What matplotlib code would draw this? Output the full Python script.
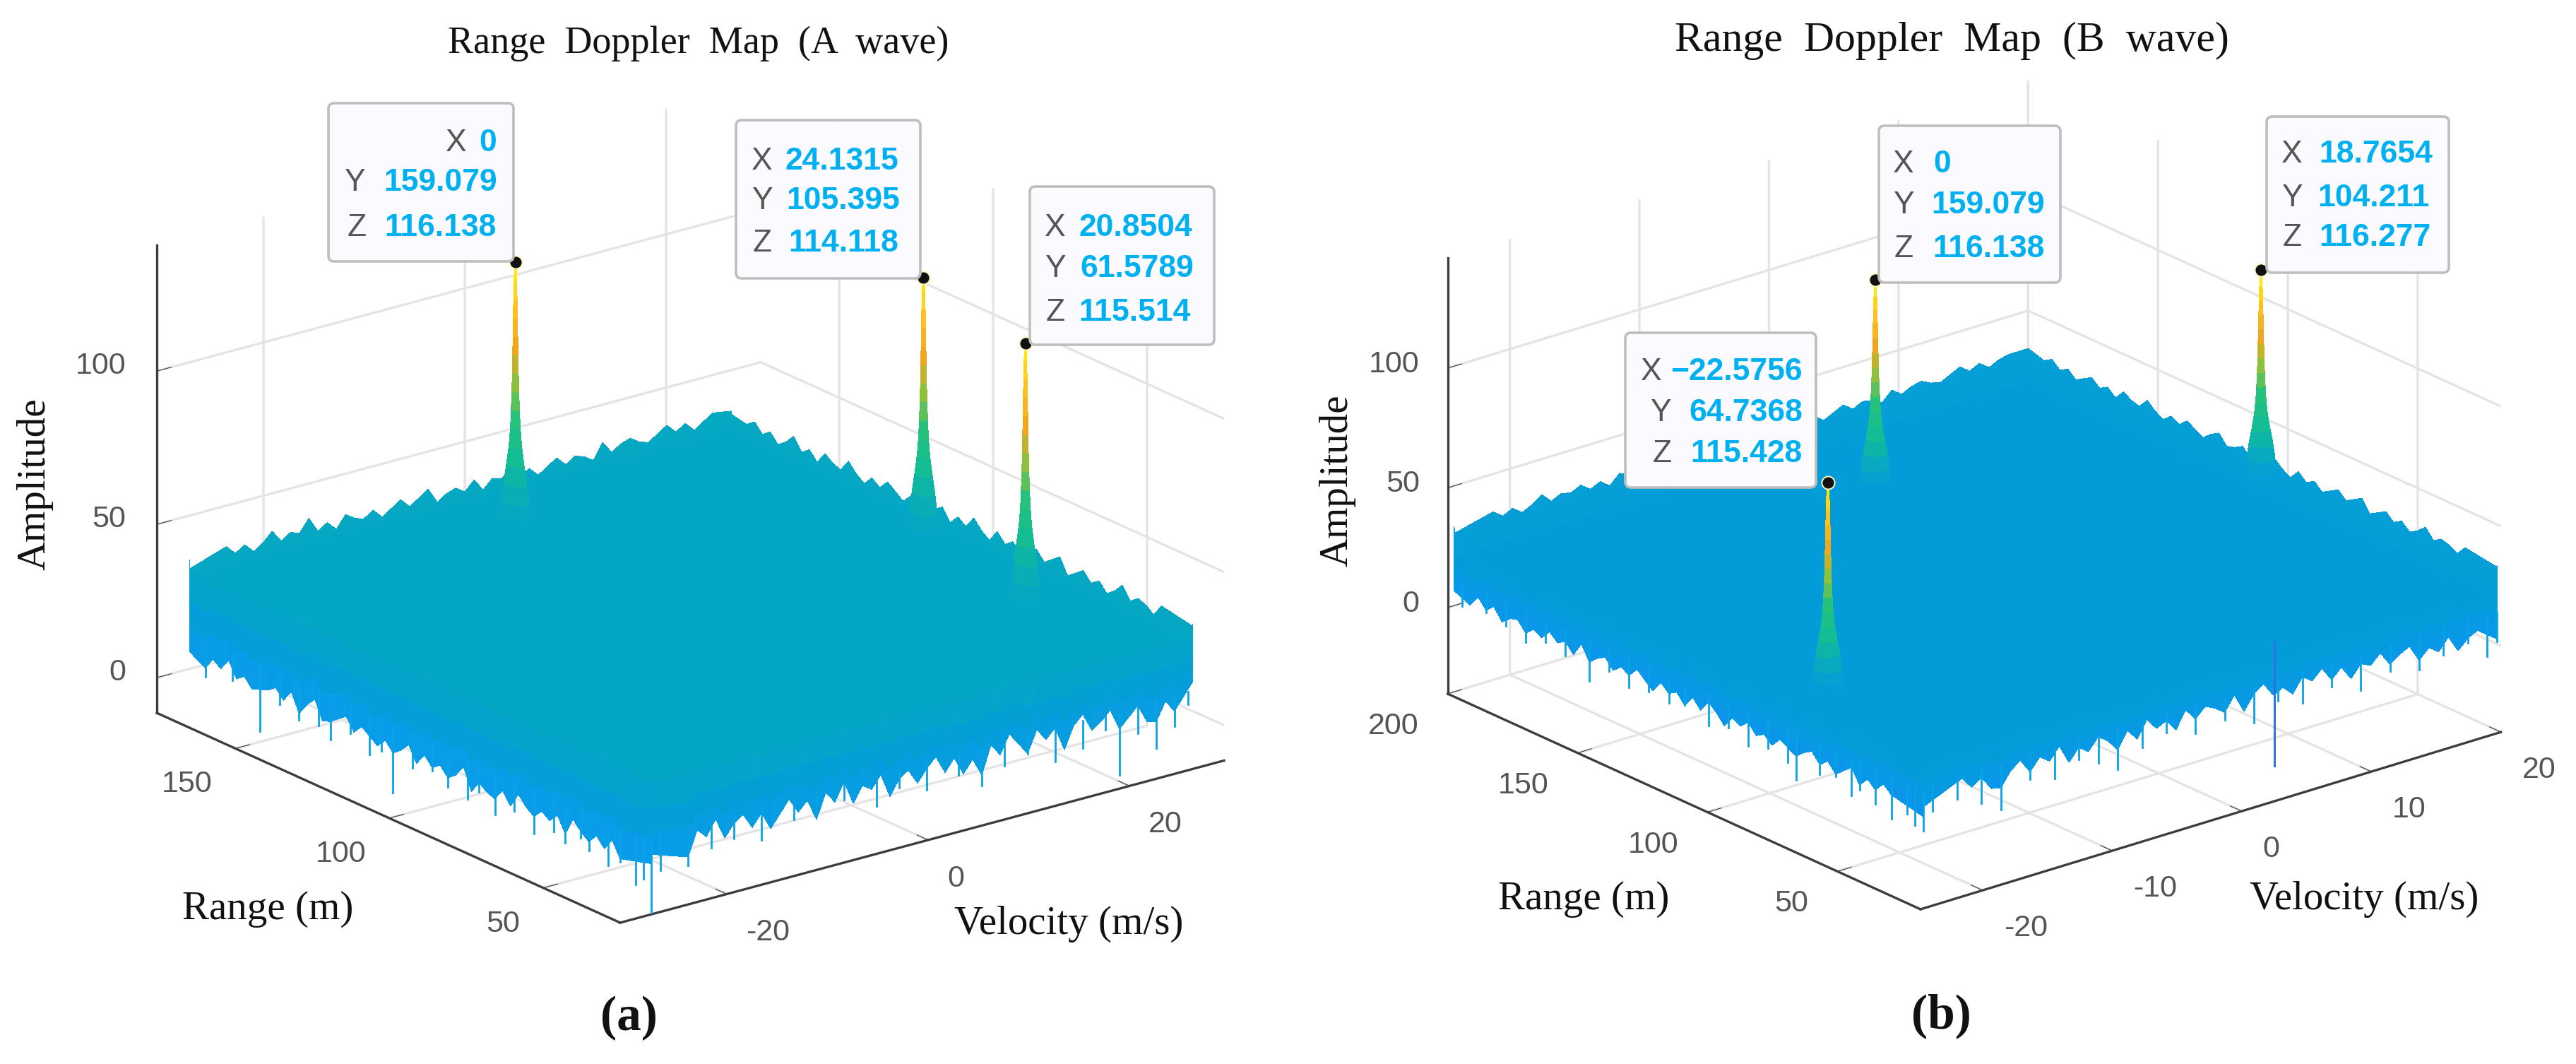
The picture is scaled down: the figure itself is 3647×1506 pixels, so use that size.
import numpy as np
import matplotlib
matplotlib.use("Agg")
import matplotlib.pyplot as plt
from matplotlib.colors import LinearSegmentedColormap
from matplotlib.patches import FancyBboxPatch
from matplotlib.transforms import IdentityTransform
from mpl_toolkits.mplot3d import proj3d

W, H = 3647, 1506

# ---------- data ----------
titles = ["Range  Doppler  Map  (A  wave)", "Range  Doppler  Map  (B  wave)"]
a_xticks = [-20, 0, 20]
a_yticks = [50, 100, 150]
b_xticks = [-20, -10, 0, 10, 20]
b_yticks = [50, 100, 150, 200]
zticks = [0, 50, 100]

a_peaks_x = [0, 24.1315, 20.8504]
a_peaks_y = [159.079, 105.395, 61.5789]
a_peaks_z = [116.138, 114.118, 115.514]
b_peaks_x = [0, 18.7654, -22.5756]
b_peaks_y = [159.079, 104.211, 64.7368]
b_peaks_z = [116.138, 116.277, 115.428]

peak_levels = [110, 104, 98, 92, 86, 80, 74, 68, 62, 56, 50, 44, 38, 33]
peak_radius = [.08, .11, .13, .15, .17, .19, .22, .26, .31, .40, .55, .72, .85, .9]

a_level = 31
b_level = 21

a_front_left = [8,6,3,7,5,9,4,6,3,4, 5,7,4,8,2,6,9,3,4,6, 8,4,7,5,3,6,3,5,8,3,
                7,4,6,3,5,9,2,6,4,3, 7,3,8,5,3,6,4,7,2,8, 5,3,6,3,7,2,5,3,4,3]
a_front_right = [5,6,10,8,4,12,9,14,7,11, 13,8,12,6,10,14,9,12,5,13, 9,15,7,12,10,14,6,11,13,8,
                 12,15,9,13,7,11,5,14,10,16, 12,8,15,11,14,6,13,16,10,12, 15,8,11,14,8,7,13,9,17,18]
a_back_left = [36,34,35,33,37,34,36,33,35,38, 34,36,35,39,34,36,33,37,35,34, 36,33,35,37,34,36,38,33,35,36,
               34,37,33,36,35,38,34,36,33,35, 37,34,36,35,33,38,34,36,37,35, 34,36,38,35,37,34,36,38,37,37]
a_back_right = [37,36,35,37,34,36,33,35,38,34, 36,33,37,35,34,38,35,33,36,34, 37,35,33,36,38,34,35,37,33,36,
                34,38,35,33,37,34,36,33,35,37, 34,36,38,33,35,37,34,36,33,35, 38,34,36,35,33,37,35,36,34,36]

b_front_left = [2,7,4,9,5,8,3,6,7,3, 6,4,8,5,7,3,9,3,6,8, 4,7,5,9,6,3,8,5,7,3,
                8,4,9,6,2,7,5,8,4,6, 3,7,5,3,6,8,4,7,3,6, 9,3,7,4,8,5,2,6,3,3]
b_front_right = [3,9,12,6,13,8,11,5,4,10, 13,7,12,9,14,6,11,8,13,10, 5,12,7,14,9,11,6,13,8,12,
                 10,7,13,5,11,14,8,10,6,12, 9,13,7,11,5,10,8,12,6,9, 11,4,8,5,10,3,7,9,3,6]
b_back_left = [34,32,33,31,35,32,34,31,33,36, 32,34,33,35,32,34,31,35,33,32, 34,31,33,35,32,34,36,31,33,34,
               32,35,31,34,33,36,32,34,31,33, 35,32,34,33,31,35,32,34,35,33, 32,34,36,33,35,32,34,35,35,34]
b_back_right = [34,35,33,35,32,34,31,33,35,32, 34,31,35,33,32,36,33,31,34,32, 35,33,31,34,36,32,33,35,31,34,
                32,36,33,31,35,32,34,31,33,35, 32,34,36,31,33,35,32,34,31,33, 36,32,34,33,31,35,33,34,32,34]

# thin downward noise spikes: position along the edge (0..59 sample index) and lowest amplitude
a_left_pos = [2, 5.5, 9, 11.5, 14, 16.5, 18, 20.5, 23, 24.5, 26, 28.5, 31, 33, 35.5, 37, 39, 41.5, 44, 46.5, 48, 50, 51, 53.5, 55, 57, 58, 59]
a_left_low = [0, 3, -9.5, 2, 0, 1, -2, 3, -1, 2, -10, 1, 3, 0, -1, 3, -2, 2, -2.5, 1, -1, 3, 0, -2, 1, -4, -1, -11]
a_right_pos = [1, 4, 6.5, 9, 12, 15.5, 18, 21, 24.5, 27, 30, 33.5, 36, 38.5, 41, 44, 47, 49.5, 51, 53, 55, 57, 58.5]
a_right_low = [2, 1.3, 5, 6, 3, 7, 6, 9, 4, 8, 5, 7, 1.5, 6, 8, 3, 5, 9, -7, 5, -1.5, 4, 10]
b_left_pos = [1, 4, 6.5, 9, 11.5, 14, 17, 19.5, 22, 24.5, 27, 29, 32, 34.5, 37, 39.5, 42, 43, 46, 48, 50, 51, 53, 55, 57, 58, 59]
b_left_low = [2, 4, 2, -1, 3, 1, -5, 3, 0, 2, 1, 3, -1, 2, -2, 1, -1, -7, 0, 2, -3, 1, -2, -5, 0, -3, -4]
b_right_pos = [1, 3.5, 6, 8, 11, 13.5, 16, 18, 20, 22.5, 25, 28, 31, 34, 36.5, 39, 42, 45, 48, 51, 53.5, 56, 58, 59]
b_right_low = [3, 5, 0, -5, 4, 1, 6, 2, -3, 3, 6, 2, 4, -1, 5, 1, 4, -1, 3, 0, 3, 5, -3, 2]

b_spike_x = [2.6, 2.6]
b_spike_y = [18.5, 18.5]
b_spike_z = [30, -21.6]

cmap_a = LinearSegmentedColormap.from_list("parula_a", [
    (0.00, "#1A5FE6"), (0.156, "#0A9CEA"), (0.25, "#049ED6"), (0.336, "#04A6C6"), (0.40, "#06AABC"),
    (0.50, "#14BC96"), (0.60, "#22C27E"), (0.70, "#8FC13C"), (0.79, "#F0A61E"), (0.91, "#FFC81E"),
    (1.00, "#FFF200")])
cmap_b = LinearSegmentedColormap.from_list("parula_b", [
    (0.00, "#1A5FE6"), (0.156, "#0A98EA"), (0.25, "#049CD8"), (0.36, "#059FD4"), (0.41, "#08A8C4"),
    (0.50, "#14BC96"), (0.60, "#22C27E"), (0.70, "#8FC13C"), (0.79, "#F0A61E"), (0.91, "#FFC81E"),
    (1.00, "#FFF200")])

plt.rcParams["font.family"] = ["Liberation Sans", "DejaVu Sans"]
plt.rcParams["axes.unicode_minus"] = False
fig = plt.figure(figsize=(W / 100, H / 100), dpi=100, facecolor="white")


def ftext(x, y, s, **kw):
    kw.setdefault("ha", "center")
    kw.setdefault("va", "center")
    return fig.text(x / W, 1 - y / H, s, **kw)


def place(ax, L, F, R):
    S = 1500.0
    cx, cy = F[0], H - F[1]
    for _ in range(4):
        ax.set_position([(cx - S / 2) / W, (cy - S / 2) / H, S / W, S / H])
        ax.apply_aspect()
        M = ax.get_proj()
        xa, xb = ax.get_xlim()
        ya, yb = ax.get_ylim()
        za = ax.get_zlim()[0]
        def scr(x, y):
            px, py, _z = proj3d.proj_transform(x, y, za, M)
            return ax.transData.transform((px, py))
        pL, pF, pR = scr(xa, yb), scr(xa, ya), scr(xb, ya)
        S *= (R[0] - L[0]) / (pR[0] - pL[0])
        ax.set_position([(cx - S / 2) / W, (cy - S / 2) / H, S / W, S / H])
        ax.apply_aspect()
        pF = scr(xa, ya)
        cx += F[0] - pF[0]
        cy += (H - F[1]) - pF[1]
    ax.set_position([(cx - S / 2) / W, (cy - S / 2) / H, S / W, S / H])
    ax.apply_aspect()


def tick_label(ax, x, y, z, s, dx, dy, ha):
    px, py, _z = proj3d.proj_transform(x, y, z, ax.get_proj())
    sx, sy = ax.transData.transform((px, py))
    ftext(sx + dx, H - sy + dy, s, ha=ha, fontsize=31, color="#555555")


def panel(corners, view, aspect, xlim, ylim, zlim, xticks, yticks, xs_lim, ys_lim, level, cmap,
          front_left, front_right, back_left, back_right, px, py, pz,
          left_pos, left_low, right_pos, right_low, offs):
    ax = fig.add_subplot(projection="3d", proj_type="ortho", computed_zorder=False)
    ax.patch.set_alpha(0)
    ax.set_xlim(*xlim); ax.set_ylim(*ylim); ax.set_zlim(*zlim)
    ax.view_init(elev=view[0], azim=view[1])
    ax.set_box_aspect(aspect)
    ax.set_xticks(xticks); ax.set_yticks(yticks); ax.set_zticks(zticks)
    ax.set_xticklabels([]); ax.set_yticklabels([]); ax.set_zticklabels([])
    for axis in (ax.xaxis, ax.yaxis, ax.zaxis):
        axis.set_pane_color((1, 1, 1, 0))
        axis.pane.set_edgecolor((1, 1, 1, 0))
        axis.line.set_color("#3c3c3c")
        axis.line.set_linewidth(2.4)
        axis._axinfo["grid"].update(color="#e4e4e4", linewidth=2.4)
        axis._axinfo["tick"].update(inward_factor=0.0, outward_factor=0.3)
    ax.tick_params(color="#3c3c3c", width=2.2)

    n = len(front_left)
    xs = np.linspace(xs_lim[0], xs_lim[1], n)
    ys = np.linspace(ys_lim[0], ys_lim[1], n)
    for k in (1, 2, 3):
        xs[k] = xs[0] + 0.01 * k
        ys[k] = ys[0] + 0.01 * k
    xs[-2] = xs[-1] - 0.01
    ys[-2] = ys[-1] - 0.01
    X, Y = np.meshgrid(xs, ys)
    Z = np.full((n, n), float(level))
    fl = np.array(front_left[::-1], dtype=float)
    fr = np.array(front_right, dtype=float)
    for k in (3, 2, 1, 0):
        Z[:, k] = fl + (level - fl) * k / 3
        Z[k, :] = fr + (level - fr) * k / 3
    Z[-1, :] = back_left
    Z[:, -1] = back_right[::-1]
    ax.plot_surface(X, Y, Z, cmap=cmap, vmin=-12, vmax=116, rcount=n, ccount=n,
                    linewidth=0, antialiased=False, shade=False, zorder=1)

    step_x = (xs_lim[1] - xs_lim[0]) / (n - 1)
    step_y = (ys_lim[1] - ys_lim[0]) / (n - 1)
    for p, low in zip(left_pos, left_low):
        yy = ys_lim[1] - p * step_y
        ax.plot([xs_lim[0], xs_lim[0]], [yy, yy], [12, low], color="#08A2E6", lw=2.0, zorder=1.5)
    for p, low in zip(right_pos, right_low):
        xx = xs_lim[0] + p * step_x
        ax.plot([xx, xx], [ys_lim[0], ys_lim[0]], [14, low], color="#08A2E6", lw=2.0, zorder=1.5)

    th = np.linspace(0, 2 * np.pi, 25)
    for x0, y0, z0 in zip(px, py, pz):
        zz = np.array([z0] + peak_levels, dtype=float)
        rr = np.array([0.05] + peak_radius)
        PX = x0 + np.outer(rr, np.cos(th))
        PY = y0 + 4 * np.outer(rr, np.sin(th))
        PZ = np.repeat(zz[:, None], len(th), axis=1)
        ax.plot_surface(PX, PY, PZ, cmap=cmap, vmin=-12, vmax=116, rcount=len(zz), ccount=len(th),
                        linewidth=0, antialiased=False, shade=False, zorder=2)
        ax.scatter([x0], [y0], [z0], s=170, c="#111111", edgecolors="#FFF9C0", linewidths=1.4,
                   depthshade=False, zorder=5)
    place(ax, *corners)
    (xo, yo, zo) = offs
    for v in xticks:
        tick_label(ax, v, ylim[0], zlim[0], str(v), xo[0], xo[1], "left")
    for v in yticks:
        tick_label(ax, xlim[0], v, zlim[0], str(v), yo[0], yo[1], "right")
    for v in zticks:
        tick_label(ax, xlim[0], ylim[1], v, str(v), zo[0], zo[1], "right")
    return ax


ax_a = panel(((222, 1008), (878, 1306), (1733, 1076)), (20.4, -127.6), (1079, 1075, 706),
             (-30.6, 29.4), (25, 175.5), (-11.5, 141), a_xticks, a_yticks, (-27.5, 26.3), (25, 175), a_level, cmap_a,
             a_front_left, a_front_right, a_back_left, a_back_right, a_peaks_x, a_peaks_y, a_peaks_z,
             a_left_pos, a_left_low, a_right_pos, a_right_low, ((27, 55), (-33, 51), (-44, -7)))
ax_b = panel(((2050, 982), (2719, 1287), (3541, 1037)), (21.9, -129.3), (1062, 1057, 665),
             (-24.8, 20), (18, 200), (-36, 146), b_xticks, b_yticks, (-24.5, 19.8), (18.5, 199), b_level, cmap_b,
             b_front_left, b_front_right, b_back_left, b_back_right, b_peaks_x, b_peaks_y, b_peaks_z,
             b_left_pos, b_left_low, b_right_pos, b_right_low, ((30, 54), (-41, 46), (-40, -5)))
ax_b.plot(b_spike_x, b_spike_y, b_spike_z, color="#2F74DC", lw=2.2, zorder=3)

serif = ["Liberation Serif", "DejaVu Serif"]
for (x, y), t, fs in zip([(989, 62), (2763, 58)], titles, (39, 43)):
    ftext(x, y, t, family=serif, fontsize=fs, color="#111111")
for x, y, s, rot in [(50, 685, "Amplitude", 90), (379, 1287, "Range (m)", 0), (1513, 1308, "Velocity (m/s)", 0),
                     (1893, 680, "Amplitude", 90), (2242, 1273, "Range (m)", 0), (3347, 1273, "Velocity (m/s)", 0)]:
    ftext(x, y, s, family=serif, fontsize=41, rotation=rot, color="#111111")
ftext(890, 1441, "(a)", family=serif, fontsize=50, fontweight="bold", color="#111111")
ftext(2748, 1438, "(b)", family=serif, fontsize=50, fontweight="bold", color="#111111")


def tip(box, letters, values, rows, anchor):
    x0, y0, x1, y1 = box
    fig.add_artist(FancyBboxPatch((x0, H - y1), x1 - x0, y1 - y0, boxstyle="round,pad=0,rounding_size=8",
                                  transform=IdentityTransform(), fc="#FBFAFE", ec="#BEBEBE", lw=2.6, zorder=4))
    for lx, v, ry, vx, name in zip(letters, values, rows, anchor, "XYZ"):
        ftext(lx, ry, name, fontsize=32, color="#555555", zorder=5)
        ftext(vx, ry, v, fontsize=32, fontweight="bold", color="#00B0F0", ha="right", zorder=5)


tip((465, 146, 727, 370), (646, 502, 505), ("0", "159.079", "116.138"), (202, 259, 322), (703, 704, 703))
tip((1042, 170, 1303, 394), (1079, 1079, 1079), ("24.1315", "105.395", "114.118"), (228, 285, 344), (1272, 1274, 1272))
tip((1458, 264, 1719, 488), (1494, 1494, 1494), ("20.8504", "61.5789", "115.514"), (322, 381, 442), (1688, 1690, 1686))
tip((2660, 178, 2917, 400), (2695, 2695, 2695), ("0", "159.079", "116.138"), (232, 291, 352), (2762, 2895, 2895))
tip((3209, 165, 3467, 386), (3245, 3245, 3245), ("18.7654", "104.211", "116.277"), (219, 280, 336), (3444, 3439, 3441))
tip((2301, 471, 2571, 690), (2338, 2351, 2353), ("\u221222.5756", "64.7368", "115.428"), (526, 584, 642), (2552, 2552, 2552))

fig.savefig("out.png", dpi=100)
